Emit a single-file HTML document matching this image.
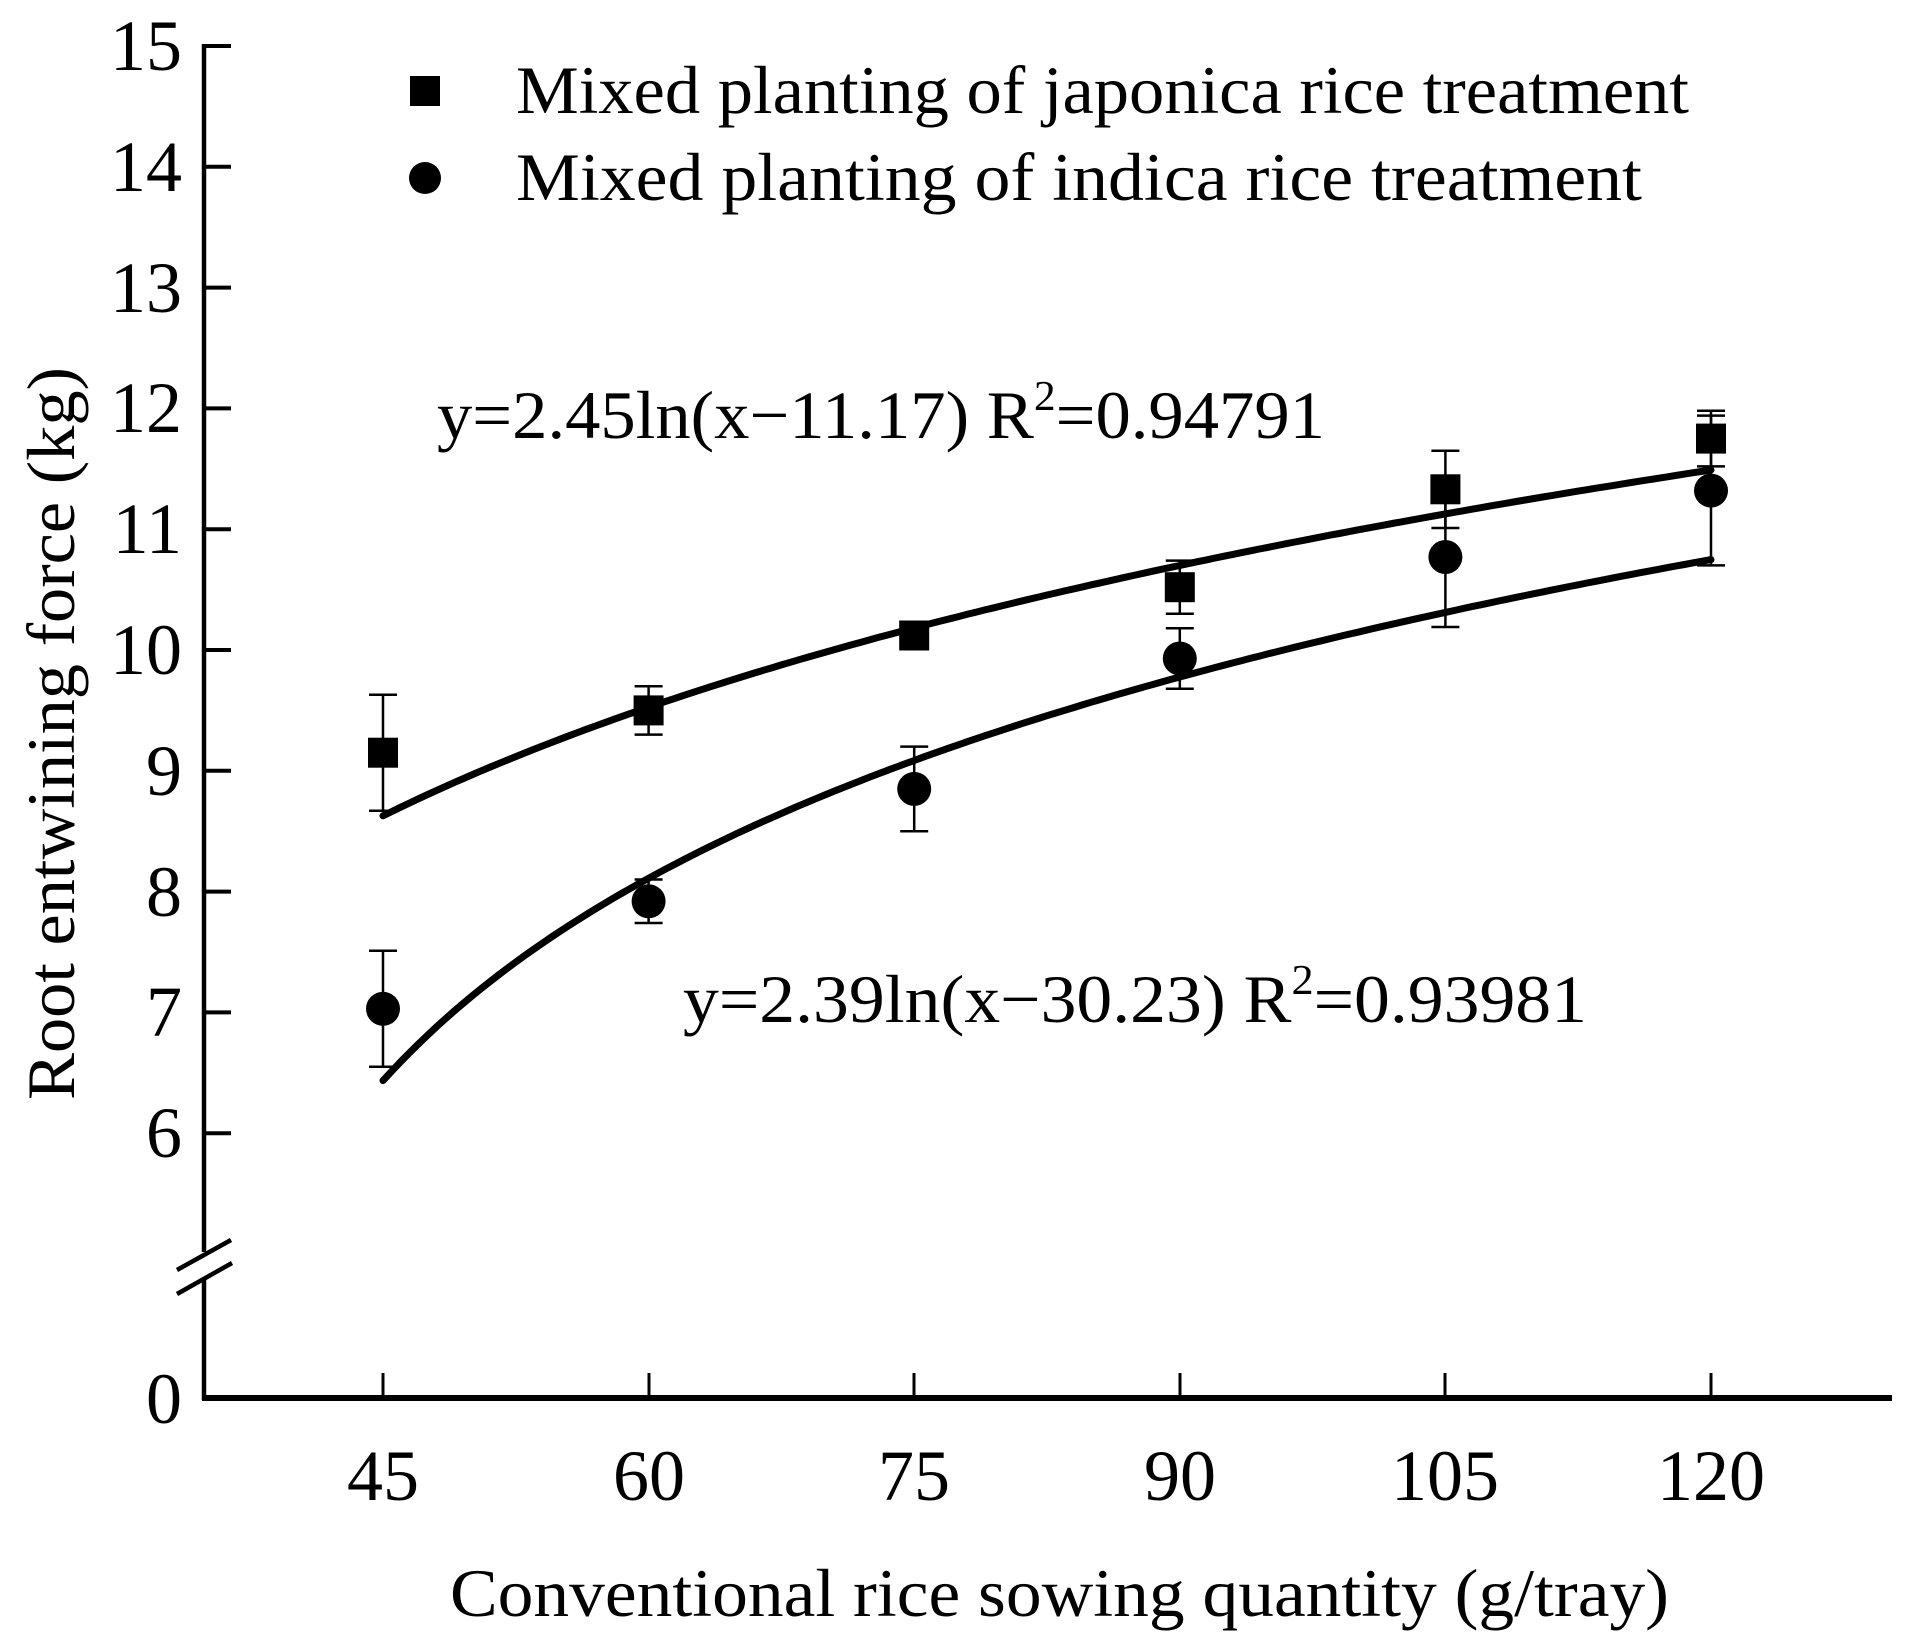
<!DOCTYPE html>
<html><head><meta charset="utf-8"><style>html,body{margin:0;padding:0;background:#fff}svg{display:block}</style></head>
<body>
<svg width="1924" height="1637" viewBox="0 0 1924 1637" xmlns="http://www.w3.org/2000/svg" font-family="'Liberation Serif', serif" fill="#000">
<line x1="204" y1="44" x2="204" y2="1252" stroke="#000" stroke-width="4.5"/>
<line x1="204" y1="1280" x2="204" y2="1400" stroke="#000" stroke-width="4.5"/>
<line x1="177" y1="1270" x2="231" y2="1240" stroke="#000" stroke-width="4.5"/>
<line x1="177" y1="1294" x2="232" y2="1263" stroke="#000" stroke-width="4.5"/>
<line x1="202" y1="1398" x2="1892" y2="1398" stroke="#000" stroke-width="6"/>
<g stroke="#000" stroke-width="4">
<line x1="204" y1="46" x2="231" y2="46"/><line x1="204" y1="166.8" x2="231" y2="166.8"/><line x1="204" y1="287.6" x2="231" y2="287.6"/><line x1="204" y1="408.4" x2="231" y2="408.4"/><line x1="204" y1="529.2" x2="231" y2="529.2"/><line x1="204" y1="650" x2="231" y2="650"/><line x1="204" y1="770.8" x2="231" y2="770.8"/><line x1="204" y1="891.6" x2="231" y2="891.6"/><line x1="204" y1="1012.4" x2="231" y2="1012.4"/><line x1="204" y1="1133.2" x2="231" y2="1133.2"/>
</g>
<g stroke="#000" stroke-width="3">
<line x1="383" y1="1398" x2="383" y2="1373"/><line x1="649" y1="1398" x2="649" y2="1373"/><line x1="914" y1="1398" x2="914" y2="1373"/><line x1="1180" y1="1398" x2="1180" y2="1373"/><line x1="1445" y1="1398" x2="1445" y2="1373"/><line x1="1711" y1="1398" x2="1711" y2="1373"/>
</g>
<g font-size="72" text-anchor="end">
<text x="182" y="70">15</text><text x="182" y="191">14</text><text x="182" y="312">13</text><text x="182" y="432">12</text><text x="182" y="553">11</text><text x="182" y="674">10</text><text x="182" y="795">9</text><text x="182" y="916">8</text><text x="182" y="1036">7</text><text x="182" y="1157">6</text><text x="182" y="1423">0</text>
</g>
<g font-size="72" text-anchor="middle">
<text x="383" y="1500">45</text><text x="649" y="1500">60</text><text x="914" y="1500">75</text><text x="1180" y="1500">90</text><text x="1445" y="1500">105</text><text x="1711" y="1500">120</text>
</g>
<text x="450" y="1616" font-size="68" textLength="1219" lengthAdjust="spacingAndGlyphs">Conventional rice sowing quantity (g/tray)</text>
<text transform="translate(74,1100) rotate(-90)" font-size="68" textLength="733" lengthAdjust="spacingAndGlyphs">Root entwining force (kg)</text>
<rect x="410" y="76" width="30" height="30"/>
<circle cx="425" cy="178" r="16"/>
<text x="516" y="113" font-size="68" textLength="1173" lengthAdjust="spacingAndGlyphs">Mixed planting of japonica rice treatment</text>
<text x="516" y="200" font-size="68" textLength="1126" lengthAdjust="spacingAndGlyphs">Mixed planting of indica rice treatment</text>
<text x="437" y="438" font-size="68" textLength="888" lengthAdjust="spacingAndGlyphs">y=2.45ln(x−11.17) R<tspan font-size="42" dy="-28">2</tspan><tspan dy="28">=0.94791</tspan></text>
<text x="683" y="1022" font-size="68" textLength="904" lengthAdjust="spacingAndGlyphs">y=2.39ln(x−30.23) R<tspan font-size="42" dy="-28">2</tspan><tspan dy="28">=0.93981</tspan></text>
<path id="c1" fill="none" stroke="#000" stroke-width="7" stroke-linecap="round" d=""/>
<path id="c2" fill="none" stroke="#000" stroke-width="7" stroke-linecap="round" d=""/>
<g stroke="#000" stroke-width="2.5">
<path d="M383,694.7V810.7M369,694.7H397M369,810.7H397"/>
<path d="M648.6,686.2V734.6M634.6,686.2H662.6M634.6,734.6H662.6"/>
<path d="M914.2,629.5V641.5M900.2,629.5H928.2M900.2,641.5H928.2"/>
<path d="M1179.8,560.6V613.8M1165.8,560.6H1193.8M1165.8,613.8H1193.8"/>
<path d="M1445.4,450.7V528M1431.4,450.7H1459.4M1431.4,528H1459.4"/>
<path d="M1711,410.8V466.4M1697,410.8H1725M1697,466.4H1725"/>
<path d="M383,950.8V1066.8M369,950.8H397M369,1066.8H397"/>
<path d="M648.6,879.5V923M634.6,879.5H662.6M634.6,923H662.6"/>
<path d="M914.2,746.6V831.2M900.2,746.6H928.2M900.2,831.2H928.2"/>
<path d="M1179.8,628.3V688.7M1165.8,628.3H1193.8M1165.8,688.7H1193.8"/>
<path d="M1445.4,486.9V627M1431.4,486.9H1459.4M1431.4,627H1459.4"/>
<path d="M1711,415.6V565.4M1697,415.6H1725M1697,565.4H1725"/>
</g>
<rect x="368" y="737.7" width="30" height="30"/>
<rect x="633.6" y="695.4" width="30" height="30"/>
<rect x="899.2" y="620.5" width="30" height="30"/>
<rect x="1164.8" y="572.2" width="30" height="30"/>
<rect x="1430.4" y="474.3" width="30" height="30"/>
<rect x="1696" y="423.6" width="30" height="30"/>
<circle cx="383" cy="1008.8" r="17"/>
<circle cx="648.6" cy="901.3" r="17"/>
<circle cx="914.2" cy="788.9" r="17"/>
<circle cx="1179.8" cy="658.5" r="17"/>
<circle cx="1445.4" cy="557" r="17"/>
<circle cx="1711" cy="490.6" r="17"/>
<script>
function X(v){return 383+(v-45)*17.707;}
function Y(v){return 46+(15-v)*120.8;}
var d1="",d2="";
for(var x=45;x<=120.001;x+=0.5){
 d1+=(x==45?"M":"L")+X(x).toFixed(1)+","+Y(2.45*Math.log(x-11.17)).toFixed(1);
 d2+=(x==45?"M":"L")+X(x).toFixed(1)+","+Y(2.39*Math.log(x-30.23)).toFixed(1);
}
document.getElementById("c1").setAttribute("d",d1);
document.getElementById("c2").setAttribute("d",d2);
</script>
</svg>
</body></html>
